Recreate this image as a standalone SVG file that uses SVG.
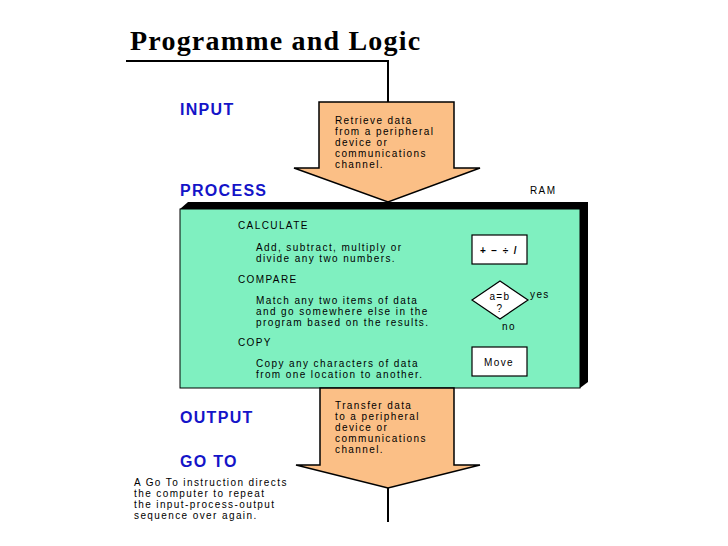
<svg xmlns="http://www.w3.org/2000/svg" width="728" height="546" viewBox="0 0 728 546">
<style>
.h{font-family:"Liberation Sans",Arial,sans-serif;font-weight:900;font-size:16px;fill:#1414c8;letter-spacing:1.3px}
.t{font-family:"Liberation Sans",Arial,sans-serif;font-size:10px;fill:#000;letter-spacing:1.4px}
.arrow{fill:#fbbf86;stroke:#000;stroke-width:1.5}
.ln{stroke:#000;stroke-width:2;fill:none}
.bx{fill:#fff;stroke:#000;stroke-width:1.2}
</style>
<rect width="728" height="546" fill="#fff"/>
<text x="130" y="50" font-family="Liberation Serif,serif" font-weight="bold" font-size="28" fill="#000" letter-spacing="1.2">Programme and Logic</text>
<g id="connectors">
<polyline class="ln" points="126,61 388,61 388,102"/>
<line class="ln" x1="388" y1="488" x2="388" y2="522"/>
<line class="ln" x1="500" y1="215" x2="500" y2="235"/>
<line class="ln" x1="500" y1="264" x2="500" y2="282"/>
<line class="ln" x1="528" y1="300" x2="558" y2="300"/>
<line class="ln" x1="500" y1="319" x2="500" y2="347"/>
</g>
<g id="input">
<text class="h" x="180" y="115">INPUT</text>
<path class="arrow" d="M319,102 H454 V168 H480 L388,202 L294,168 H319 Z"/>
<text class="t"><tspan x="335" y="124">Retrieve data</tspan><tspan x="335" y="135">from a peripheral</tspan><tspan x="335" y="146">device or</tspan><tspan x="335" y="157">communications</tspan><tspan x="335" y="168">channel.</tspan></text>
</g>
<g id="process">
<text class="h" x="180" y="196">PROCESS</text>
<text class="t" x="530" y="194" letter-spacing="0.5">RAM</text>
<path d="M180,209 L188,202 H588 V382 L580,388 Z" fill="#000"/>
<rect x="180" y="209" width="400" height="179" fill="#7ff0c0" stroke="#000"/>
<text class="t" x="238" y="229">CALCULATE</text>
<text class="t"><tspan x="256" y="251">Add, subtract, multiply or</tspan><tspan x="256" y="262">divide any two numbers.</tspan></text>
<text class="t" x="238" y="283">COMPARE</text>
<text class="t"><tspan x="256" y="304">Match any two items of data</tspan><tspan x="256" y="315">and go somewhere else in the</tspan><tspan x="256" y="326">program based on the results.</tspan></text>
<text class="t" x="238" y="346">COPY</text>
<text class="t"><tspan x="256" y="367">Copy any characters of data</tspan><tspan x="256" y="378">from one location to another.</tspan></text>
</g>
<g id="calc"><rect class="bx" x="472" y="235" width="55" height="29"/><text class="t" x="499" y="254" text-anchor="middle" font-weight="bold" letter-spacing="0.5">+ − ÷ /</text></g>
<g id="compare"><polygon class="bx" points="500,281 528,300 500,319 472,300"/><text class="t" x="500" y="300" text-anchor="middle" letter-spacing="0">a=b</text><text class="t" x="500" y="312" text-anchor="middle" letter-spacing="0">?</text>
<text class="t" x="530" y="298" letter-spacing="0.5">yes</text><text class="t" x="502" y="330" letter-spacing="0.5">no</text></g>
<g id="move"><rect class="bx" x="472" y="347" width="55" height="29"/><text class="t" x="499" y="366" text-anchor="middle" letter-spacing="0">Move</text></g>
<g id="output">
<path class="arrow" d="M320,388 H454 V465 H480 L388,488 L296,465 H320 Z"/>
<text class="t"><tspan x="335" y="409">Transfer data</tspan><tspan x="335" y="420">to a peripheral</tspan><tspan x="335" y="431">device or</tspan><tspan x="335" y="442">communications</tspan><tspan x="335" y="453">channel.</tspan></text>
<text class="h" x="180" y="423">OUTPUT</text>
</g>
<g id="goto">
<text class="h" x="180" y="467">GO TO</text>
<text class="t" letter-spacing="1.2"><tspan x="134" y="486">A Go To instruction directs</tspan><tspan x="134" y="497">the computer to repeat</tspan><tspan x="134" y="508">the input-process-output</tspan><tspan x="134" y="519">sequence over again.</tspan></text>
</g>
</svg>
